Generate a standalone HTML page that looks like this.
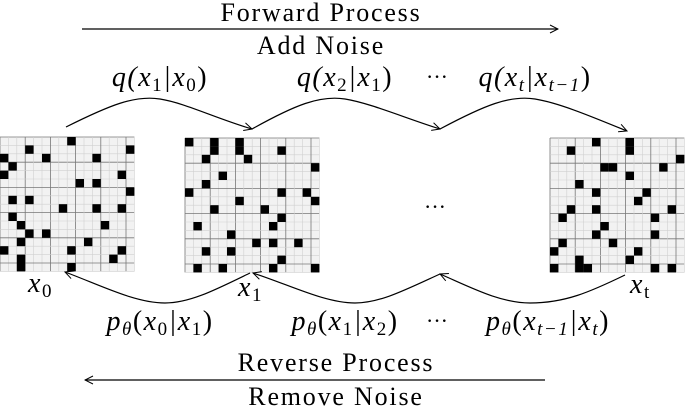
<!DOCTYPE html>
<html><head><meta charset="utf-8"><style>
html,body{margin:0;padding:0;background:#fff;width:685px;height:407px;overflow:hidden}
svg{display:block}
text{font-family:"Liberation Serif",serif;fill:#000}
.m{font-style:italic;letter-spacing:1.5px}
.t{letter-spacing:1.8px}
</style></head><body>
<svg id="s" width="685" height="407" viewBox="0 0 685 407" xmlns="http://www.w3.org/2000/svg">
<defs><marker id="a" markerWidth="10" markerHeight="10" refX="9" refY="5" orient="auto" markerUnits="userSpaceOnUse"><path d="M1,1 L9,5 L1,9" fill="none" stroke="#000" stroke-width="1"/></marker></defs>
<g id="grids"></g>
<text x="321" y="21" font-size="26" text-anchor="middle" class="t">Forward Process</text>
<line x1="82" y1="29" x2="558" y2="29" stroke="#000" stroke-width="1.2" marker-end="url(#a)"/>
<text x="321" y="54" font-size="26" text-anchor="middle" class="t">Add Noise</text>
<g font-size="28">
<text x="160" y="86" text-anchor="middle" class="m">q(x<tspan font-size="19" dy="5" font-style="normal">1</tspan><tspan dy="-5">|x</tspan><tspan font-size="19" dy="5" font-style="normal">0</tspan><tspan dy="-5" font-style="normal">)</tspan></text>
<text x="345" y="86" text-anchor="middle" class="m">q(x<tspan font-size="19" dy="5" font-style="normal">2</tspan><tspan dy="-5">|x</tspan><tspan font-size="19" dy="5" font-style="normal">1</tspan><tspan dy="-5" font-style="normal">)</tspan></text>
<text x="437" y="84" text-anchor="middle" font-size="22">···</text>
<text x="535" y="86" text-anchor="middle" class="m">q(x<tspan font-size="19" dy="5">t</tspan><tspan dy="-5">|x</tspan><tspan font-size="19" dy="5">t−1</tspan><tspan dy="-5" font-style="normal">)</tspan></text>
<text x="435" y="214" text-anchor="middle" font-size="22">···</text>
<text x="28" y="292" class="m">x<tspan font-size="19" dy="5" font-style="normal">0</tspan></text>
<text x="238" y="296" class="m">x<tspan font-size="19" dy="5" font-style="normal">1</tspan></text>
<text x="630" y="293" class="m">x<tspan font-size="19" dy="5" font-style="normal">t</tspan></text>
<text x="160" y="330" text-anchor="middle" class="m">p<tspan font-size="19" dy="5">θ</tspan><tspan dy="-5" font-style="normal">(</tspan>x<tspan font-size="19" dy="5" font-style="normal">0</tspan><tspan dy="-5">|x</tspan><tspan font-size="19" dy="5" font-style="normal">1</tspan><tspan dy="-5" font-style="normal">)</tspan></text>
<text x="345" y="330" text-anchor="middle" class="m">p<tspan font-size="19" dy="5">θ</tspan><tspan dy="-5" font-style="normal">(</tspan>x<tspan font-size="19" dy="5" font-style="normal">1</tspan><tspan dy="-5">|x</tspan><tspan font-size="19" dy="5" font-style="normal">2</tspan><tspan dy="-5" font-style="normal">)</tspan></text>
<text x="437" y="328" text-anchor="middle" font-size="22">···</text>
<text x="548" y="330" text-anchor="middle" class="m">p<tspan font-size="19" dy="5">θ</tspan><tspan dy="-5" font-style="normal">(</tspan>x<tspan font-size="19" dy="5">t−1</tspan><tspan dy="-5">|x</tspan><tspan font-size="19" dy="5">t</tspan><tspan dy="-5" font-style="normal">)</tspan></text>
</g>
<g fill="none" stroke="#000" stroke-width="1.2">
<path d="M66,127 C110,105 135,95 160,99 C185,103 215,118 252,129" marker-end="url(#a)"/>
<path d="M252,129 C295,105 320,95 345,99 C370,103 405,118 440,129" marker-end="url(#a)"/>
<path d="M440,129 C485,105 510,95 535,99 C560,103 595,118 627,131" marker-end="url(#a)"/>
<path d="M250,273 C215,290 190,303 165,303 C135,303 100,285 65,272" marker-end="url(#a)"/>
<path d="M440,274 C405,290 380,303 355,303 C325,303 290,285 253,273" marker-end="url(#a)"/>
<path d="M625,275 C590,292 565,303 530,303 C500,303 470,287 440,274" marker-end="url(#a)"/>
</g>
<text x="336" y="371" font-size="26" text-anchor="middle" class="t">Reverse Process</text>
<line x1="545" y1="380" x2="85" y2="380" stroke="#000" stroke-width="1.2" marker-end="url(#a)"/>
<text x="336" y="405" font-size="26" text-anchor="middle" class="t">Remove Noise</text>
</svg>
<script>
var g=document.getElementById('grids'),c=8.4;
var data=[
[0,137,[[8],[3,15],[0,5,11],[1],[0,14],[9,11],[15],[1,3],[7,11,14],[1],[2,12],[3,5],[2,10],[0,8,14],[2,13],[2,8]]],
[185,138,[[0,3,6],[3,6,11],[2,7],[15],[4],[2],[0,11,14],[6,15],[3,9],[11],[1,10],[5],[8,10,13],[2,5],[11],[1,4,10,15]]],
[550,138,[[5,9],[2,9],[15],[6,7,13],[9],[3],[5,11],[10],[2,5,14],[1,12],[6],[5,12],[1,7],[0,10],[3,9],[0,3,4,12,14]]]];
data.forEach(function(d){
var x0=d[0],y0=d[1],W=16*c,h='';
h+='<rect x="'+x0+'" y="'+y0+'" width="'+W+'" height="'+W+'" fill="#f2f2f2"/>';
for(var i=0;i<=16;i++){var p=i*c,dk=(i%3==0)?'#777':'#d0d0d0',sw=(i%3==0)?0.8:0.6;
h+='<line x1="'+(x0+p)+'" y1="'+y0+'" x2="'+(x0+p)+'" y2="'+(y0+W)+'" stroke="'+dk+'" stroke-width="'+sw+'"/>';
h+='<line x1="'+x0+'" y1="'+(y0+p)+'" x2="'+(x0+W)+'" y2="'+(y0+p)+'" stroke="'+dk+'" stroke-width="'+sw+'"/>';}
d[2].forEach(function(r,ri){r.forEach(function(ci){h+='<rect x="'+(x0+ci*c)+'" y="'+(y0+ri*c)+'" width="'+c+'" height="'+c+'" fill="#000"/>';});});
g.insertAdjacentHTML('beforeend',h);
});
</script>
</body></html>
